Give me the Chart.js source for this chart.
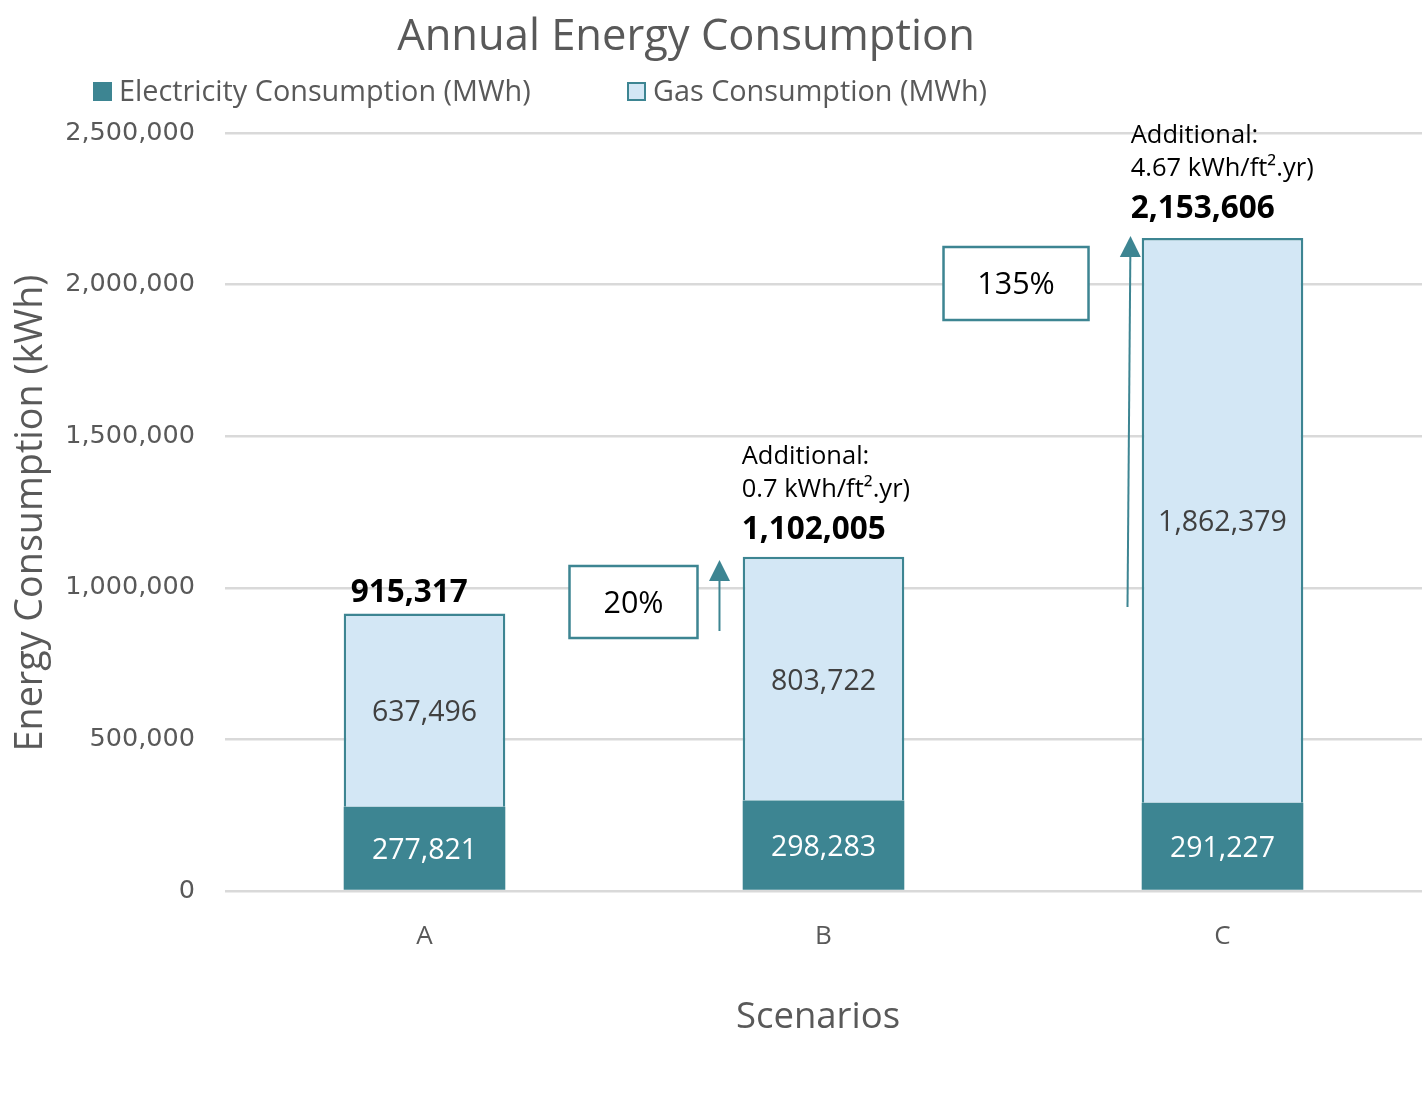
<!DOCTYPE html>
<html><head><meta charset="utf-8">
<script src="https://cdn.jsdelivr.net/npm/chart.js@4.4.0/dist/chart.umd.min.js"></script>
<style>html,body{margin:0;padding:0;background:#fff;}</style>
</head><body>
<canvas id="c" width="1424" height="1096"></canvas>
<script>
// ---- data ----
const scenarios = ['A', 'B', 'C'];
const electricity = [277821, 298283, 291227];
const gas = [637496, 803722, 1862379];
const totals = [915317, 1102005, 2153606];
const increaseLabels = ['', '20%', '135%'];
const additionalLines = [[], ['Additional:', '0.7 kWh/ft\u00B2.yr)'], ['Additional:', '4.67 kWh/ft\u00B2.yr)']];
const yTicks = [0, 500000, 1000000, 1500000, 2000000, 2500000];
const seriesNames = ['Electricity Consumption (MWh)', 'Gas Consumption (MWh)'];

// ---- styles ----
const TEAL = '#3D8592';
const LIGHT = '#D3E7F5';
const GRAY = '#595959';
const FONT = '"Open Sans", sans-serif';
const fmt = v => v.toLocaleString('en-US');

// annotation layout (category index units / value units)
const boxes = [
  {cat: 1, x0: 0.3634, x1: 0.6842, y0: 834400, y1: 1071900},
  {cat: 2, x0: 1.3008, x1: 1.6642, y0: 1883200, y1: 2124000}
];
const arrows = [
  {x0: 0.7393, v0: 857500, x1: 0.7393, v1: 1091700},
  {x0: 1.7619, v0: 936700, x1: 1.7694, v1: 2160300}
];
const totalOffsets = [{dx: 7, dy: -20}, {dx: -1, dy: -27}, {dx: -11, dy: -29}];

const overlay = {
  id: 'overlay',
  afterDatasetsDraw(chart) {
    const ctx = chart.ctx;
    const xs = chart.scales.x, ys = chart.scales.y;
    ctx.save();
    // segment labels
    ctx.textAlign = 'center';
    ctx.textBaseline = 'middle';
    ctx.font = '28.5px ' + FONT;
    chart.data.datasets.forEach((ds, di) => {
      const meta = chart.getDatasetMeta(di);
      meta.data.forEach((bar, i) => {
        const cy = (bar.y + bar.base) / 2;
        ctx.fillStyle = di === 0 ? '#FFFFFF' : '#404040';
        ctx.fillText(fmt(ds.data[i]), bar.x, cy + 3);
      });
    });
    // totals and additional notes
    const gasMeta = chart.getDatasetMeta(1);
    gasMeta.data.forEach((bar, i) => {
      const left = bar.x - bar.width / 2 + totalOffsets[i].dx;
      const cy = bar.y + totalOffsets[i].dy;
      ctx.textAlign = 'left';
      ctx.fillStyle = '#000';
      ctx.font = 'bold 31.5px ' + FONT;
      ctx.fillText(fmt(totals[i]), left, cy);
      ctx.font = '25.5px ' + FONT;
      const lines = additionalLines[i];
      lines.forEach((t, k) => {
        ctx.fillText(t, left, cy - 73 + k * 33);
      });
    });
    // boxes
    boxes.forEach(b => {
      const l = xs.getPixelForValue(b.x0), r = xs.getPixelForValue(b.x1);
      const t = ys.getPixelForValue(b.y1), bt = ys.getPixelForValue(b.y0);
      ctx.fillStyle = '#fff';
      ctx.fillRect(l, t, r - l, bt - t);
      ctx.strokeStyle = TEAL;
      ctx.lineWidth = 2.5;
      ctx.strokeRect(l, t, r - l, bt - t);
      ctx.fillStyle = '#000';
      ctx.textAlign = 'center';
      ctx.font = '30.5px ' + FONT;
      ctx.fillText(increaseLabels[b.cat], (l + r) / 2, (t + bt) / 2 + 2);
    });
    // arrows
    arrows.forEach(a => {
      const x0 = xs.getPixelForValue(a.x0), y0 = ys.getPixelForValue(a.v0);
      const x1 = xs.getPixelForValue(a.x1), y1 = ys.getPixelForValue(a.v1);
      const ang = Math.atan2(y1 - y0, x1 - x0);
      const hl = 21, hw = 10.5;
      const bx = x1 - hl * Math.cos(ang), by = y1 - hl * Math.sin(ang);
      ctx.strokeStyle = TEAL;
      ctx.lineWidth = 2;
      ctx.beginPath();
      ctx.moveTo(x0, y0);
      ctx.lineTo(bx, by);
      ctx.stroke();
      ctx.fillStyle = TEAL;
      ctx.beginPath();
      ctx.moveTo(x1, y1);
      ctx.lineTo(bx + hw * Math.sin(ang), by - hw * Math.cos(ang));
      ctx.lineTo(bx - hw * Math.sin(ang), by + hw * Math.cos(ang));
      ctx.closePath();
      ctx.fill();
    });
    ctx.restore();
  },
  afterDraw(chart) {
    const ctx = chart.ctx;
    ctx.save();
    ctx.fillStyle = GRAY;
    ctx.textBaseline = 'middle';
    // title
    ctx.textAlign = 'center';
    ctx.font = '43.5px ' + FONT;
    ctx.fillText('Annual Energy Consumption', 686, 38);
    // legend
    ctx.textAlign = 'left';
    ctx.font = '28.8px ' + FONT;
    ctx.fillStyle = TEAL;
    ctx.fillRect(93, 82, 19, 19);
    ctx.fillStyle = GRAY;
    ctx.fillText(seriesNames[0], 119, 93);
    ctx.fillStyle = LIGHT;
    ctx.fillRect(627, 82, 19, 19);
    ctx.strokeStyle = TEAL;
    ctx.lineWidth = 2;
    ctx.strokeRect(628, 83, 17, 17);
    ctx.fillStyle = GRAY;
    ctx.fillText(seriesNames[1], 653, 93);
    // axis titles
    ctx.textAlign = 'center';
    ctx.font = '36.5px ' + FONT;
    ctx.fillText('Scenarios', 818, 1018);
    ctx.translate(31, 513);
    ctx.rotate(-Math.PI / 2);
    ctx.font = '37.7px ' + FONT;
    ctx.fillText('Energy Consumption (kWh)', 0, 0);
    ctx.restore();
  }
};

new Chart(document.getElementById('c'), {
  type: 'bar',
  data: {
    labels: scenarios,
    datasets: [
      {label: seriesNames[0], data: electricity, backgroundColor: TEAL, borderWidth: 0,
       categoryPercentage: 1, barPercentage: 0.405},
      {label: seriesNames[1], data: gas, backgroundColor: LIGHT, borderColor: TEAL, borderWidth: 2.5,
       categoryPercentage: 1, barPercentage: 0.405}
    ]
  },
  options: {
    responsive: false,
    animation: false,
    devicePixelRatio: 1,
    layout: {padding: {top: 133, left: 0, right: 2, bottom: 0}},
    plugins: {legend: {display: false}, title: {display: false}, tooltip: {enabled: false}},
    scales: {
      x: {
        stacked: true,
        grid: {display: false},
        border: {display: false},
        ticks: {color: GRAY, font: {family: FONT, size: 26}, padding: 22},
        afterFit: s => { s.height = 205; }
      },
      y: {
        stacked: true,
        min: 0, max: 2500000,
        afterBuildTicks: s => { s.ticks = yTicks.map(v => ({value: v})); },
        ticks: {color: GRAY, font: {family: '"DejaVu Sans", sans-serif', size: 25.5}, padding: 30,
                callback: v => fmt(v)},
        grid: {color: '#D9D9D9', lineWidth: 2.5, drawTicks: false},
        border: {display: false},
        afterFit: s => { s.width = 225; }
      }
    }
  },
  plugins: [overlay]
});
</script>
</body></html>
